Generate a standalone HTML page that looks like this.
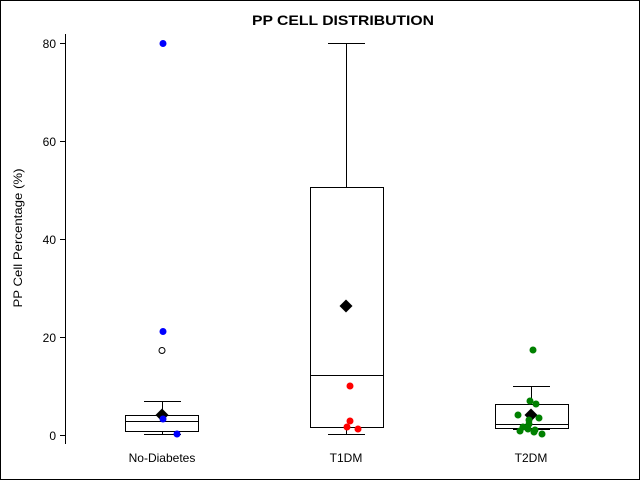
<!DOCTYPE html>
<html><head><style>body{margin:0;background:#fff}svg{display:block}</style></head><body>
<svg width="640" height="480" xmlns="http://www.w3.org/2000/svg" font-family="Liberation Sans, sans-serif">
<rect x="0.5" y="0.5" width="639" height="479" fill="#fff" stroke="#000"/>
<text x="343" y="25" font-size="14" font-weight="bold" text-anchor="middle" textLength="182" lengthAdjust="spacingAndGlyphs">PP CELL DISTRIBUTION</text>
<text transform="translate(22,238) rotate(-90)" font-size="12" text-anchor="middle" textLength="139" lengthAdjust="spacingAndGlyphs">PP Cell Percentage (%)</text>
<g stroke="#000" stroke-width="1" fill="none">
<line x1="65.5" y1="34" x2="65.5" y2="444"/>
<line x1="60" y1="43.5" x2="65" y2="43.5"/>
<line x1="60" y1="141.5" x2="65" y2="141.5"/>
<line x1="60" y1="239.5" x2="65" y2="239.5"/>
<line x1="60" y1="337.5" x2="65" y2="337.5"/>
<line x1="60" y1="435.5" x2="65" y2="435.5"/>
<rect x="125.5" y="415.5" width="73" height="16"/>
<line x1="125" y1="421.5" x2="198" y2="421.5"/>
<line x1="162.5" y1="401" x2="162.5" y2="415"/>
<line x1="144" y1="401.5" x2="181" y2="401.5"/>
<line x1="162.5" y1="431" x2="162.5" y2="434"/>
<line x1="144" y1="434.5" x2="181" y2="434.5"/>
<rect x="310.5" y="187.5" width="73" height="240"/>
<line x1="310" y1="375.5" x2="383" y2="375.5"/>
<line x1="346.5" y1="43" x2="346.5" y2="187"/>
<line x1="328" y1="43.5" x2="365" y2="43.5"/>
<line x1="346.5" y1="427" x2="346.5" y2="434"/>
<line x1="328" y1="434.5" x2="365" y2="434.5"/>
<rect x="495.5" y="404.5" width="73" height="24"/>
<line x1="495" y1="424.5" x2="568" y2="424.5"/>
<line x1="531.5" y1="386" x2="531.5" y2="404"/>
<line x1="513" y1="386.5" x2="550" y2="386.5"/>
<line x1="513" y1="429.5" x2="550" y2="429.5"/>
<circle cx="162" cy="350.5" r="3"/>
</g>
<g font-size="12" text-anchor="end">
<text x="56" y="48">80</text><text x="56" y="146">60</text><text x="56" y="244">40</text><text x="56" y="342">20</text><text x="56" y="440">0</text>
</g>
<g font-size="12" text-anchor="middle">
<text x="162" y="462">No-Diabetes</text><text x="346" y="462">T1DM</text><text x="531" y="462">T2DM</text>
</g>
<g fill="#000">
<polygon points="162,408.5 168.5,415 162,421.5 155.5,415"/>
<polygon points="346,299.5 352.5,306 346,312.5 339.5,306"/>
<polygon points="531,408.5 537.5,415 531,421.5 524.5,415"/>
</g>
<g fill="#00f">
<circle cx="163" cy="43.5" r="3.5"/><circle cx="163" cy="331.5" r="3.5"/><circle cx="163" cy="419" r="3.5"/><circle cx="177" cy="434" r="3.5"/>
</g>
<g fill="#f00">
<circle cx="350" cy="386" r="3.5"/><circle cx="350" cy="421" r="3.5"/><circle cx="347" cy="427" r="3.5"/><circle cx="358" cy="429" r="3.5"/>
</g>
<g fill="#008000">
<circle cx="533" cy="350" r="3.5"/><circle cx="530" cy="401" r="3.5"/><circle cx="536" cy="404" r="3.5"/><circle cx="518" cy="415" r="3.5"/><circle cx="539" cy="418" r="3.5"/><circle cx="529" cy="420" r="3.5"/><circle cx="529" cy="424" r="3.5"/><circle cx="523" cy="427" r="3.5"/><circle cx="528" cy="429" r="3.5"/><circle cx="520" cy="431" r="3.5"/><circle cx="534" cy="432" r="3.5"/><circle cx="542" cy="434" r="3.5"/><circle cx="535" cy="430" r="3.5"/>
</g>
</svg>
</body></html>
